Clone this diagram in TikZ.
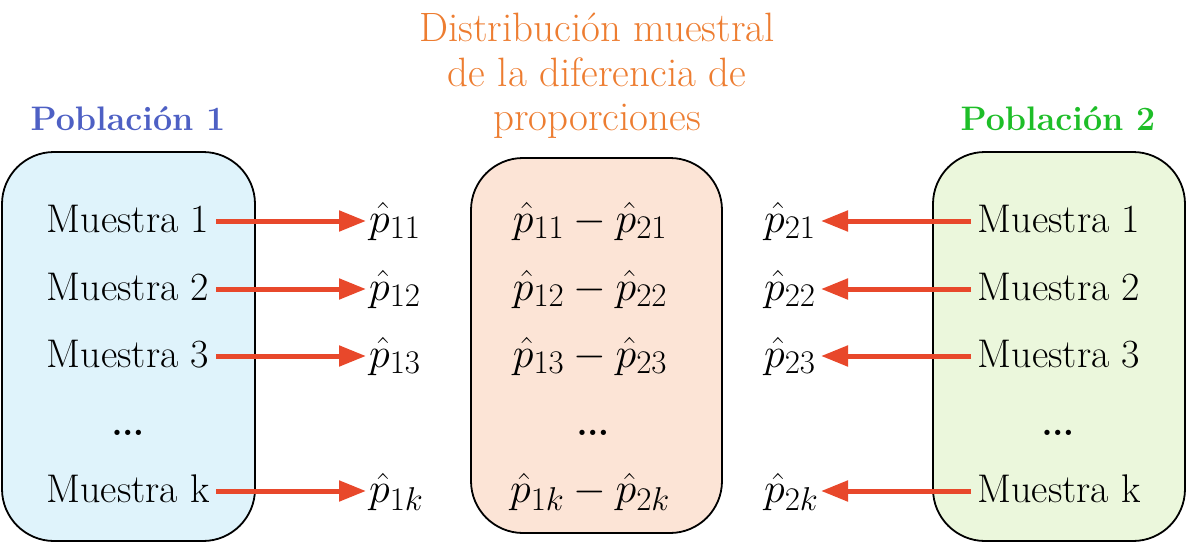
\RequirePackage{fix-cm}
\documentclass[tikz,border=0pt]{standalone}
\usepackage{fontspec}
\usetikzlibrary{arrows.meta}
\DeclareMathSizes{42}{42}{33}{25}
\definecolor{popblue}{RGB}{78,96,196}
\definecolor{popgreen}{RGB}{30,190,40}
\definecolor{titorange}{RGB}{237,125,49}
\definecolor{arrred}{RGB}{232,72,43}
\definecolor{fillblue}{RGB}{223,243,251}
\definecolor{fillpeach}{RGB}{252,228,214}
\definecolor{fillgreen}{RGB}{235,247,220}
\tikzset{
  popbox/.style={draw=black, line width=1.8pt, rounded corners=52pt},
  sample/.style={anchor=base, inner sep=0pt, font=\fontsize{40}{44}\selectfont},
  dotsty/.style={anchor=base, inner sep=0pt, font=\fontsize{64}{64}\selectfont},
  est/.style={anchor=base, inner sep=0pt, font=\fontsize{42}{46}\selectfont},
  ttl/.style={anchor=base, inner sep=0pt, font=\fontsize{34}{40}\selectfont\bfseries},
  otl/.style={anchor=base, inner sep=0pt, text=titorange, font=\fontsize{41}{45}\selectfont},
  arr/.style={draw=arrred, line width=5pt, -{Triangle[length=27pt,width=20pt]}}
}
\begin{document}
\begin{tikzpicture}[x=1pt,y=-1pt]
\useasboundingbox (0,0) rectangle (1187,543);
% boxes
\draw[popbox, fill=fillblue] (2,152) rectangle (255,541);
\draw[popbox, fill=fillpeach] (471,158) rectangle (722,533);
\draw[popbox, fill=fillgreen] (933,152) rectangle (1185,541);
% titles
\node[ttl, text=popblue] (t1) at (128,131) {Población 1};
\node[ttl, text=popgreen] (t2) at (1058,131) {Población 2};
\node[otl] (tm1) at (597,42) {Distribución muestral};
\node[otl] (tm2) at (597,87) {de la diferencia de};
\node[otl] (tm3) at (597,131) {proporciones};
% rows
\foreach \i/\y/\lab in {1/232/1, 2/300/2, 3/367/3, k/502/k}{
  \node[sample] (L\i) at (128,\y) {Muestra \lab};
  \node[sample] (R\i) at (1059,\y) {Muestra \lab};
  \node[est, anchor=base west] (PL\i) at (369,\y) {$\hat p_{1\lab}$};
  \node[est, anchor=base west] (PR\i) at (764,\y) {$\hat p_{2\lab}$};
  \node[est] (M\i) at (590,\y) {$\hat p_{1\lab}-\hat p_{2\lab}$};
  \coordinate (la\i) at (216,\y-11);
  \coordinate (lb\i) at (366,\y-11);
  \coordinate (ra\i) at (971,\y-11);
  \coordinate (rb\i) at (821,\y-11);
  \draw[arr] (la\i) -- (lb\i);
  \draw[arr] (ra\i) -- (rb\i);
}
\node[dotsty] (Ld) at (128,435) {\dots};
\node[dotsty] (Rd) at (1058,435) {\dots};
\node[dotsty] (Md) at (593,435) {\dots};
\end{tikzpicture}
\end{document}
